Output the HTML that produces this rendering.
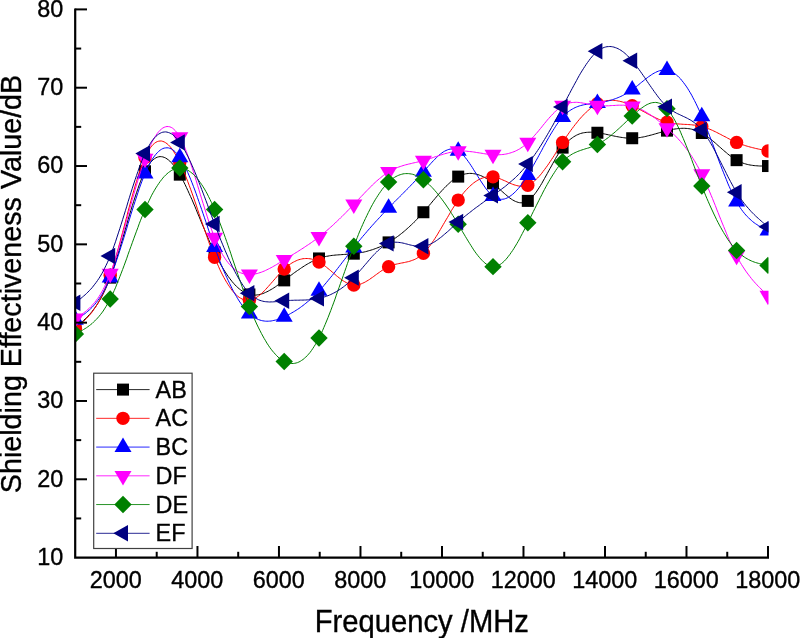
<!DOCTYPE html>
<html><head><meta charset="utf-8"><title>Shielding Effectiveness</title>
<style>
html,body{margin:0;padding:0;background:#fff;}
svg{display:block;font-family:"Liberation Sans",Arial,sans-serif;fill:#000;}
text{stroke:#000;stroke-width:0.35px;}
</style></head>
<body>
<svg width="800" height="638" viewBox="0 0 800 638">
<rect width="800" height="638" fill="#fff"/>
<defs><clipPath id="pc"><rect x="75.8" y="0" width="692.7" height="557.6"/></clipPath></defs>
<g clip-path="url(#pc)">
<g><path d="M75.4,327.4 L76.8,326.2 L78.2,325.1 L79.6,324.0 L81.0,322.8 L82.3,321.6 L83.7,320.3 L85.1,319.0 L86.5,317.7 L87.9,316.2 L89.3,314.7 L90.7,313.2 L92.1,311.5 L93.4,309.7 L94.8,307.9 L96.2,305.9 L97.6,303.8 L99.0,301.5 L100.4,299.1 L101.8,296.6 L103.2,293.9 L104.5,291.1 L105.9,288.1 L107.3,284.9 L108.7,281.5 L110.1,277.9 L111.5,274.1 L112.9,270.1 L114.3,266.0 L115.7,261.7 L117.0,257.3 L118.4,252.8 L119.8,248.2 L121.2,243.5 L122.6,238.7 L124.0,234.0 L125.4,229.2 L126.8,224.4 L128.1,219.6 L129.5,214.9 L130.9,210.3 L132.3,205.7 L133.7,201.3 L135.1,197.0 L136.5,192.8 L137.9,188.7 L139.2,184.9 L140.6,181.2 L142.0,177.8 L143.4,174.6 L144.8,171.7 L146.2,169.0 L147.6,166.6 L149.0,164.5 L150.4,162.7 L151.7,161.1 L153.1,159.8 L154.5,158.7 L155.9,157.8 L157.3,157.2 L158.7,156.8 L160.1,156.6 L161.5,156.7 L162.8,156.9 L164.2,157.4 L165.6,158.0 L167.0,158.9 L168.4,159.9 L169.8,161.1 L171.2,162.5 L172.6,164.1 L173.9,165.8 L175.3,167.6 L176.7,169.7 L178.1,171.8 L179.5,174.1 L180.9,176.6 L182.3,179.1 L183.7,181.8 L185.1,184.6 L186.4,187.4 L187.8,190.4 L189.2,193.5 L190.6,196.6 L192.0,199.7 L193.4,203.0 L194.8,206.2 L196.2,209.6 L197.5,212.9 L198.9,216.2 L200.3,219.6 L201.7,223.0 L203.1,226.3 L204.5,229.6 L205.9,232.9 L207.3,236.2 L208.6,239.4 L210.0,242.6 L211.4,245.7 L212.8,248.8 L214.2,251.7 L215.6,254.6 L217.0,257.4 L218.4,260.1 L219.7,262.7 L221.1,265.2 L222.5,267.6 L223.9,269.9 L225.3,272.1 L226.7,274.2 L228.1,276.3 L229.5,278.2 L230.9,280.0 L232.2,281.7 L233.6,283.3 L235.0,284.9 L236.4,286.3 L237.8,287.6 L239.2,288.8 L240.6,289.9 L242.0,290.9 L243.3,291.8 L244.7,292.6 L246.1,293.3 L247.5,293.9 L248.9,294.3 L250.3,294.7 L251.7,294.9 L253.1,295.1 L254.4,295.1 L255.8,295.1 L257.2,294.9 L258.6,294.7 L260.0,294.4 L261.4,294.0 L262.8,293.6 L264.2,293.0 L265.6,292.4 L266.9,291.8 L268.3,291.1 L269.7,290.3 L271.1,289.5 L272.5,288.7 L273.9,287.8 L275.3,286.9 L276.7,285.9 L278.0,284.9 L279.4,283.9 L280.8,282.9 L282.2,281.9 L283.6,280.8 L285.0,279.8 L286.4,278.7 L287.8,277.7 L289.1,276.6 L290.5,275.6 L291.9,274.6 L293.3,273.5 L294.7,272.5 L296.1,271.5 L297.5,270.5 L298.9,269.6 L300.3,268.6 L301.6,267.7 L303.0,266.8 L304.4,265.9 L305.8,265.0 L307.2,264.2 L308.6,263.4 L310.0,262.6 L311.4,261.8 L312.7,261.1 L314.1,260.5 L315.5,259.8 L316.9,259.3 L318.3,258.7 L319.7,258.2 L321.1,257.8 L322.5,257.3 L323.8,257.0 L325.2,256.6 L326.6,256.3 L328.0,256.1 L329.4,255.8 L330.8,255.6 L332.2,255.4 L333.6,255.3 L335.0,255.1 L336.3,255.0 L337.7,254.9 L339.1,254.8 L340.5,254.7 L341.9,254.6 L343.3,254.5 L344.7,254.4 L346.1,254.3 L347.4,254.2 L348.8,254.1 L350.2,254.0 L351.6,253.9 L353.0,253.8 L354.4,253.6 L355.8,253.4 L357.2,253.2 L358.5,253.0 L359.9,252.8 L361.3,252.5 L362.7,252.3 L364.1,252.0 L365.5,251.7 L366.9,251.3 L368.3,250.9 L369.7,250.5 L371.0,250.1 L372.4,249.7 L373.8,249.2 L375.2,248.7 L376.6,248.2 L378.0,247.6 L379.4,247.1 L380.8,246.4 L382.1,245.8 L383.5,245.1 L384.9,244.4 L386.3,243.7 L387.7,242.9 L389.1,242.1 L390.5,241.3 L391.9,240.4 L393.2,239.5 L394.6,238.6 L396.0,237.6 L397.4,236.6 L398.8,235.6 L400.2,234.5 L401.6,233.4 L403.0,232.3 L404.4,231.1 L405.7,230.0 L407.1,228.7 L408.5,227.5 L409.9,226.2 L411.3,224.9 L412.7,223.6 L414.1,222.2 L415.5,220.8 L416.8,219.4 L418.2,217.9 L419.6,216.4 L421.0,214.9 L422.4,213.4 L423.8,211.8 L425.2,210.2 L426.6,208.6 L427.9,207.0 L429.3,205.3 L430.7,203.7 L432.1,202.0 L433.5,200.3 L434.9,198.7 L436.3,197.0 L437.7,195.4 L439.0,193.8 L440.4,192.3 L441.8,190.7 L443.2,189.2 L444.6,187.8 L446.0,186.3 L447.4,185.0 L448.8,183.7 L450.2,182.4 L451.5,181.2 L452.9,180.1 L454.3,179.1 L455.7,178.1 L457.1,177.2 L458.5,176.5 L459.9,175.8 L461.3,175.2 L462.6,174.7 L464.0,174.2 L465.4,173.9 L466.8,173.7 L468.2,173.5 L469.6,173.4 L471.0,173.4 L472.4,173.5 L473.7,173.7 L475.1,173.9 L476.5,174.2 L477.9,174.6 L479.3,175.1 L480.7,175.6 L482.1,176.2 L483.5,176.9 L484.9,177.6 L486.2,178.4 L487.6,179.3 L489.0,180.2 L490.4,181.2 L491.8,182.3 L493.2,183.4 L494.6,184.6 L496.0,185.8 L497.3,187.0 L498.7,188.3 L500.1,189.6 L501.5,190.9 L502.9,192.2 L504.3,193.4 L505.7,194.6 L507.1,195.8 L508.4,196.9 L509.8,198.0 L511.2,199.0 L512.6,199.9 L514.0,200.7 L515.4,201.4 L516.8,201.9 L518.2,202.4 L519.6,202.7 L520.9,202.8 L522.3,202.8 L523.7,202.6 L525.1,202.2 L526.5,201.6 L527.9,200.8 L529.3,199.8 L530.7,198.6 L532.0,197.2 L533.4,195.7 L534.8,193.9 L536.2,192.1 L537.6,190.0 L539.0,187.9 L540.4,185.7 L541.8,183.4 L543.1,181.0 L544.5,178.5 L545.9,176.0 L547.3,173.5 L548.7,170.9 L550.1,168.4 L551.5,165.9 L552.9,163.3 L554.3,160.9 L555.6,158.4 L557.0,156.1 L558.4,153.8 L559.8,151.7 L561.2,149.6 L562.6,147.7 L564.0,145.9 L565.4,144.2 L566.7,142.7 L568.1,141.3 L569.5,140.0 L570.9,138.8 L572.3,137.8 L573.7,136.8 L575.1,136.0 L576.5,135.2 L577.8,134.6 L579.2,134.0 L580.6,133.5 L582.0,133.1 L583.4,132.8 L584.8,132.6 L586.2,132.4 L587.6,132.3 L589.0,132.2 L590.3,132.2 L591.7,132.2 L593.1,132.3 L594.5,132.4 L595.9,132.6 L597.3,132.7 L598.7,132.9 L600.1,133.2 L601.4,133.4 L602.8,133.7 L604.2,133.9 L605.6,134.2 L607.0,134.5 L608.4,134.8 L609.8,135.1 L611.2,135.4 L612.5,135.7 L613.9,136.0 L615.3,136.3 L616.7,136.6 L618.1,136.8 L619.5,137.1 L620.9,137.3 L622.3,137.5 L623.7,137.7 L625.0,137.9 L626.4,138.0 L627.8,138.1 L629.2,138.2 L630.6,138.2 L632.0,138.2 L633.4,138.2 L634.8,138.1 L636.1,138.0 L637.5,137.9 L638.9,137.7 L640.3,137.5 L641.7,137.2 L643.1,137.0 L644.5,136.7 L645.9,136.4 L647.2,136.0 L648.6,135.7 L650.0,135.3 L651.4,135.0 L652.8,134.6 L654.2,134.2 L655.6,133.8 L657.0,133.4 L658.3,133.0 L659.7,132.6 L661.1,132.2 L662.5,131.8 L663.9,131.4 L665.3,131.1 L666.7,130.7 L668.1,130.4 L669.5,130.1 L670.8,129.8 L672.2,129.5 L673.6,129.2 L675.0,129.0 L676.4,128.8 L677.8,128.6 L679.2,128.5 L680.6,128.4 L681.9,128.3 L683.3,128.3 L684.7,128.3 L686.1,128.4 L687.5,128.5 L688.9,128.7 L690.3,128.9 L691.7,129.2 L693.0,129.5 L694.4,129.9 L695.8,130.3 L697.2,130.8 L698.6,131.4 L700.0,132.0 L701.4,132.8 L702.8,133.5 L704.2,134.4 L705.5,135.3 L706.9,136.3 L708.3,137.3 L709.7,138.4 L711.1,139.5 L712.5,140.6 L713.9,141.8 L715.3,143.0 L716.6,144.2 L718.0,145.5 L719.4,146.7 L720.8,147.9 L722.2,149.2 L723.6,150.4 L725.0,151.6 L726.4,152.7 L727.7,153.9 L729.1,155.0 L730.5,156.1 L731.9,157.1 L733.3,158.1 L734.7,159.0 L736.1,159.9 L737.5,160.6 L738.9,161.4 L740.2,162.0 L741.6,162.6 L743.0,163.1 L744.4,163.6 L745.8,164.0 L747.2,164.4 L748.6,164.7 L750.0,165.0 L751.3,165.2 L752.7,165.4 L754.1,165.6 L755.5,165.7 L756.9,165.8 L758.3,165.9 L759.7,166.0 L761.1,166.0 L762.4,166.0 L763.8,166.0 L765.2,166.0 L766.6,166.0 L768.0,166.0" fill="none" stroke="#000000" stroke-width="1"/>
<rect x="69.40" y="321.36" width="12.00" height="12.00" fill="#000000"/>
<rect x="104.20" y="271.63" width="12.00" height="12.00" fill="#000000"/>
<rect x="139.00" y="165.28" width="12.00" height="12.00" fill="#000000"/>
<rect x="173.80" y="168.65" width="12.00" height="12.00" fill="#000000"/>
<rect x="208.60" y="246.57" width="12.00" height="12.00" fill="#000000"/>
<rect x="243.40" y="288.47" width="12.00" height="12.00" fill="#000000"/>
<rect x="278.20" y="274.38" width="12.00" height="12.00" fill="#000000"/>
<rect x="313.00" y="252.45" width="12.00" height="12.00" fill="#000000"/>
<rect x="347.80" y="247.67" width="12.00" height="12.00" fill="#000000"/>
<rect x="382.60" y="236.39" width="12.00" height="12.00" fill="#000000"/>
<rect x="417.40" y="206.24" width="12.00" height="12.00" fill="#000000"/>
<rect x="452.20" y="170.61" width="12.00" height="12.00" fill="#000000"/>
<rect x="487.00" y="177.27" width="12.00" height="12.00" fill="#000000"/>
<rect x="521.80" y="194.89" width="12.00" height="12.00" fill="#000000"/>
<rect x="556.60" y="141.63" width="12.00" height="12.00" fill="#000000"/>
<rect x="591.40" y="126.75" width="12.00" height="12.00" fill="#000000"/>
<rect x="626.20" y="132.24" width="12.00" height="12.00" fill="#000000"/>
<rect x="661.00" y="124.64" width="12.00" height="12.00" fill="#000000"/>
<rect x="695.80" y="126.99" width="12.00" height="12.00" fill="#000000"/>
<rect x="730.60" y="154.16" width="12.00" height="12.00" fill="#000000"/>
<rect x="762.00" y="160.04" width="12.00" height="12.00" fill="#000000"/>
</g>
<g><path d="M75.4,328.5 L76.8,327.4 L78.2,326.2 L79.6,325.0 L81.0,323.8 L82.3,322.6 L83.7,321.3 L85.1,319.9 L86.5,318.5 L87.9,317.0 L89.3,315.4 L90.7,313.8 L92.1,312.0 L93.4,310.1 L94.8,308.1 L96.2,306.0 L97.6,303.7 L99.0,301.3 L100.4,298.7 L101.8,296.0 L103.2,293.1 L104.5,290.0 L105.9,286.7 L107.3,283.2 L108.7,279.5 L110.1,275.6 L111.5,271.4 L112.9,267.1 L114.3,262.5 L115.7,257.8 L117.0,252.9 L118.4,247.9 L119.8,242.8 L121.2,237.6 L122.6,232.4 L124.0,227.1 L125.4,221.8 L126.8,216.5 L128.1,211.2 L129.5,206.0 L130.9,200.9 L132.3,195.8 L133.7,190.9 L135.1,186.0 L136.5,181.4 L137.9,176.9 L139.2,172.6 L140.6,168.5 L142.0,164.7 L143.4,161.1 L144.8,157.9 L146.2,154.9 L147.6,152.2 L149.0,149.9 L150.4,147.8 L151.7,146.0 L153.1,144.5 L154.5,143.3 L155.9,142.3 L157.3,141.6 L158.7,141.2 L160.1,141.0 L161.5,141.0 L162.8,141.4 L164.2,141.9 L165.6,142.7 L167.0,143.7 L168.4,144.9 L169.8,146.3 L171.2,148.0 L172.6,149.8 L173.9,151.9 L175.3,154.1 L176.7,156.5 L178.1,159.1 L179.5,161.9 L180.9,164.8 L182.3,167.9 L183.7,171.2 L185.1,174.6 L186.4,178.1 L187.8,181.7 L189.2,185.4 L190.6,189.2 L192.0,193.1 L193.4,197.0 L194.8,201.1 L196.2,205.1 L197.5,209.2 L198.9,213.3 L200.3,217.4 L201.7,221.5 L203.1,225.6 L204.5,229.6 L205.9,233.6 L207.3,237.6 L208.6,241.5 L210.0,245.3 L211.4,249.1 L212.8,252.7 L214.2,256.3 L215.6,259.7 L217.0,263.0 L218.4,266.2 L219.7,269.2 L221.1,272.1 L222.5,274.9 L223.9,277.5 L225.3,280.0 L226.7,282.4 L228.1,284.6 L229.5,286.7 L230.9,288.7 L232.2,290.5 L233.6,292.2 L235.0,293.7 L236.4,295.0 L237.8,296.3 L239.2,297.3 L240.6,298.2 L242.0,299.0 L243.3,299.6 L244.7,300.0 L246.1,300.3 L247.5,300.4 L248.9,300.4 L250.3,300.2 L251.7,299.8 L253.1,299.3 L254.4,298.6 L255.8,297.9 L257.2,296.9 L258.6,295.9 L260.0,294.8 L261.4,293.6 L262.8,292.3 L264.2,290.9 L265.6,289.5 L266.9,288.0 L268.3,286.5 L269.7,284.9 L271.1,283.3 L272.5,281.7 L273.9,280.1 L275.3,278.5 L276.7,276.9 L278.0,275.4 L279.4,273.9 L280.8,272.4 L282.2,271.0 L283.6,269.6 L285.0,268.3 L286.4,267.1 L287.8,266.0 L289.1,264.9 L290.5,263.9 L291.9,263.0 L293.3,262.2 L294.7,261.5 L296.1,260.8 L297.5,260.2 L298.9,259.7 L300.3,259.3 L301.6,259.0 L303.0,258.7 L304.4,258.6 L305.8,258.5 L307.2,258.5 L308.6,258.6 L310.0,258.8 L311.4,259.0 L312.7,259.4 L314.1,259.8 L315.5,260.3 L316.9,260.9 L318.3,261.6 L319.7,262.4 L321.1,263.2 L322.5,264.2 L323.8,265.2 L325.2,266.2 L326.6,267.3 L328.0,268.5 L329.4,269.6 L330.8,270.8 L332.2,272.0 L333.6,273.2 L335.0,274.4 L336.3,275.6 L337.7,276.7 L339.1,277.8 L340.5,278.9 L341.9,279.9 L343.3,280.9 L344.7,281.7 L346.1,282.5 L347.4,283.2 L348.8,283.9 L350.2,284.4 L351.6,284.7 L353.0,285.0 L354.4,285.1 L355.8,285.1 L357.2,284.9 L358.5,284.7 L359.9,284.3 L361.3,283.8 L362.7,283.2 L364.1,282.6 L365.5,281.8 L366.9,281.0 L368.3,280.2 L369.7,279.3 L371.0,278.3 L372.4,277.4 L373.8,276.4 L375.2,275.3 L376.6,274.3 L378.0,273.3 L379.4,272.3 L380.8,271.3 L382.1,270.4 L383.5,269.5 L384.9,268.6 L386.3,267.8 L387.7,267.1 L389.1,266.5 L390.5,265.9 L391.9,265.4 L393.2,264.9 L394.6,264.5 L396.0,264.2 L397.4,263.9 L398.8,263.6 L400.2,263.3 L401.6,263.0 L403.0,262.8 L404.4,262.5 L405.7,262.2 L407.1,261.9 L408.5,261.6 L409.9,261.2 L411.3,260.7 L412.7,260.2 L414.1,259.7 L415.5,259.0 L416.8,258.3 L418.2,257.4 L419.6,256.5 L421.0,255.5 L422.4,254.3 L423.8,253.0 L425.2,251.6 L426.6,250.0 L427.9,248.3 L429.3,246.5 L430.7,244.7 L432.1,242.7 L433.5,240.6 L434.9,238.5 L436.3,236.3 L437.7,234.1 L439.0,231.8 L440.4,229.5 L441.8,227.1 L443.2,224.7 L444.6,222.3 L446.0,219.9 L447.4,217.6 L448.8,215.2 L450.2,212.8 L451.5,210.5 L452.9,208.2 L454.3,206.0 L455.7,203.8 L457.1,201.7 L458.5,199.7 L459.9,197.8 L461.3,195.9 L462.6,194.1 L464.0,192.4 L465.4,190.8 L466.8,189.3 L468.2,187.8 L469.6,186.5 L471.0,185.2 L472.4,184.0 L473.7,182.9 L475.1,181.9 L476.5,181.0 L477.9,180.1 L479.3,179.4 L480.7,178.7 L482.1,178.2 L483.5,177.7 L484.9,177.3 L486.2,177.0 L487.6,176.8 L489.0,176.7 L490.4,176.6 L491.8,176.7 L493.2,176.9 L494.6,177.1 L496.0,177.5 L497.3,177.9 L498.7,178.3 L500.1,178.8 L501.5,179.4 L502.9,180.0 L504.3,180.6 L505.7,181.2 L507.1,181.9 L508.4,182.5 L509.8,183.1 L511.2,183.7 L512.6,184.3 L514.0,184.8 L515.4,185.2 L516.8,185.6 L518.2,185.9 L519.6,186.1 L520.9,186.3 L522.3,186.3 L523.7,186.2 L525.1,186.0 L526.5,185.7 L527.9,185.2 L529.3,184.6 L530.7,183.8 L532.0,182.9 L533.4,181.8 L534.8,180.6 L536.2,179.4 L537.6,178.0 L539.0,176.5 L540.4,174.9 L541.8,173.2 L543.1,171.4 L544.5,169.6 L545.9,167.7 L547.3,165.8 L548.7,163.8 L550.1,161.7 L551.5,159.6 L552.9,157.5 L554.3,155.4 L555.6,153.2 L557.0,151.0 L558.4,148.9 L559.8,146.7 L561.2,144.5 L562.6,142.4 L564.0,140.3 L565.4,138.2 L566.7,136.2 L568.1,134.2 L569.5,132.2 L570.9,130.3 L572.3,128.4 L573.7,126.5 L575.1,124.7 L576.5,123.0 L577.8,121.3 L579.2,119.6 L580.6,118.0 L582.0,116.5 L583.4,115.0 L584.8,113.6 L586.2,112.2 L587.6,110.9 L589.0,109.7 L590.3,108.5 L591.7,107.4 L593.1,106.4 L594.5,105.5 L595.9,104.6 L597.3,103.8 L598.7,103.1 L600.1,102.5 L601.4,102.0 L602.8,101.5 L604.2,101.2 L605.6,100.9 L607.0,100.6 L608.4,100.5 L609.8,100.3 L611.2,100.3 L612.5,100.3 L613.9,100.4 L615.3,100.5 L616.7,100.7 L618.1,101.0 L619.5,101.2 L620.9,101.6 L622.3,101.9 L623.7,102.4 L625.0,102.8 L626.4,103.3 L627.8,103.9 L629.2,104.4 L630.6,105.0 L632.0,105.6 L633.4,106.3 L634.8,107.0 L636.1,107.6 L637.5,108.4 L638.9,109.1 L640.3,109.8 L641.7,110.6 L643.1,111.3 L644.5,112.1 L645.9,112.8 L647.2,113.6 L648.6,114.3 L650.0,115.0 L651.4,115.7 L652.8,116.5 L654.2,117.1 L655.6,117.8 L657.0,118.5 L658.3,119.1 L659.7,119.7 L661.1,120.2 L662.5,120.8 L663.9,121.2 L665.3,121.7 L666.7,122.1 L668.1,122.5 L669.5,122.8 L670.8,123.0 L672.2,123.3 L673.6,123.5 L675.0,123.7 L676.4,123.8 L677.8,123.9 L679.2,124.0 L680.6,124.1 L681.9,124.2 L683.3,124.3 L684.7,124.4 L686.1,124.4 L687.5,124.5 L688.9,124.6 L690.3,124.7 L691.7,124.8 L693.0,125.0 L694.4,125.1 L695.8,125.3 L697.2,125.5 L698.6,125.8 L700.0,126.1 L701.4,126.4 L702.8,126.8 L704.2,127.2 L705.5,127.6 L706.9,128.1 L708.3,128.7 L709.7,129.2 L711.1,129.8 L712.5,130.4 L713.9,131.1 L715.3,131.7 L716.6,132.4 L718.0,133.1 L719.4,133.8 L720.8,134.5 L722.2,135.3 L723.6,136.0 L725.0,136.7 L726.4,137.4 L727.7,138.2 L729.1,138.9 L730.5,139.6 L731.9,140.2 L733.3,140.9 L734.7,141.5 L736.1,142.2 L737.5,142.7 L738.9,143.3 L740.2,143.8 L741.6,144.4 L743.0,144.8 L744.4,145.3 L745.8,145.8 L747.2,146.2 L748.6,146.6 L750.0,147.0 L751.3,147.3 L752.7,147.7 L754.1,148.0 L755.5,148.4 L756.9,148.7 L758.3,149.0 L759.7,149.3 L761.1,149.6 L762.4,149.9 L763.8,150.2 L765.2,150.4 L766.6,150.7 L768.0,151.0" fill="none" stroke="#ff0000" stroke-width="1"/>
<circle cx="75.40" cy="328.54" r="6.7" fill="#ff0000"/>
<circle cx="110.20" cy="275.29" r="6.7" fill="#ff0000"/>
<circle cx="145.00" cy="157.42" r="6.7" fill="#ff0000"/>
<circle cx="179.80" cy="162.51" r="6.7" fill="#ff0000"/>
<circle cx="214.60" cy="257.27" r="6.7" fill="#ff0000"/>
<circle cx="249.40" cy="300.35" r="6.7" fill="#ff0000"/>
<circle cx="284.20" cy="269.02" r="6.7" fill="#ff0000"/>
<circle cx="319.00" cy="261.97" r="6.7" fill="#ff0000"/>
<circle cx="353.80" cy="285.07" r="6.7" fill="#ff0000"/>
<circle cx="388.60" cy="266.67" r="6.7" fill="#ff0000"/>
<circle cx="423.40" cy="253.36" r="6.7" fill="#ff0000"/>
<circle cx="458.20" cy="200.10" r="6.7" fill="#ff0000"/>
<circle cx="493.00" cy="176.84" r="6.7" fill="#ff0000"/>
<circle cx="527.80" cy="185.22" r="6.7" fill="#ff0000"/>
<circle cx="562.60" cy="142.39" r="6.7" fill="#ff0000"/>
<circle cx="597.40" cy="103.78" r="6.7" fill="#ff0000"/>
<circle cx="632.20" cy="105.74" r="6.7" fill="#ff0000"/>
<circle cx="667.00" cy="122.18" r="6.7" fill="#ff0000"/>
<circle cx="701.80" cy="126.49" r="6.7" fill="#ff0000"/>
<circle cx="736.60" cy="142.39" r="6.7" fill="#ff0000"/>
<circle cx="768.00" cy="151.00" r="6.7" fill="#ff0000"/>
</g>
<g><path d="M75.4,319.9 L76.8,319.1 L78.2,318.2 L79.6,317.3 L81.0,316.4 L82.3,315.5 L83.7,314.5 L85.1,313.5 L86.5,312.4 L87.9,311.2 L89.3,310.0 L90.7,308.7 L92.1,307.3 L93.4,305.9 L94.8,304.3 L96.2,302.6 L97.6,300.8 L99.0,298.9 L100.4,296.8 L101.8,294.6 L103.2,292.2 L104.5,289.7 L105.9,287.0 L107.3,284.1 L108.7,281.1 L110.1,277.9 L111.5,274.5 L112.9,270.8 L114.3,267.1 L115.7,263.1 L117.0,259.1 L118.4,254.9 L119.8,250.6 L121.2,246.2 L122.6,241.8 L124.0,237.3 L125.4,232.8 L126.8,228.2 L128.1,223.6 L129.5,219.1 L130.9,214.5 L132.3,210.0 L133.7,205.6 L135.1,201.3 L136.5,197.0 L137.9,192.8 L139.2,188.8 L140.6,184.9 L142.0,181.1 L143.4,177.5 L144.8,174.1 L146.2,170.9 L147.6,167.9 L149.0,165.1 L150.4,162.5 L151.7,160.2 L153.1,158.0 L154.5,156.0 L155.9,154.3 L157.3,152.7 L158.7,151.4 L160.1,150.2 L161.5,149.3 L162.8,148.6 L164.2,148.1 L165.6,147.9 L167.0,147.8 L168.4,147.9 L169.8,148.3 L171.2,148.9 L172.6,149.7 L173.9,150.7 L175.3,151.9 L176.7,153.4 L178.1,155.1 L179.5,157.0 L180.9,159.1 L182.3,161.4 L183.7,164.0 L185.1,166.7 L186.4,169.6 L187.8,172.6 L189.2,175.8 L190.6,179.2 L192.0,182.7 L193.4,186.3 L194.8,190.0 L196.2,193.8 L197.5,197.6 L198.9,201.6 L200.3,205.6 L201.7,209.6 L203.1,213.7 L204.5,217.8 L205.9,221.9 L207.3,226.0 L208.6,230.1 L210.0,234.1 L211.4,238.1 L212.8,242.1 L214.2,246.0 L215.6,249.8 L217.0,253.5 L218.4,257.2 L219.7,260.8 L221.1,264.3 L222.5,267.7 L223.9,271.0 L225.3,274.2 L226.7,277.3 L228.1,280.3 L229.5,283.3 L230.9,286.1 L232.2,288.9 L233.6,291.5 L235.0,294.0 L236.4,296.4 L237.8,298.8 L239.2,301.0 L240.6,303.1 L242.0,305.0 L243.3,306.9 L244.7,308.7 L246.1,310.3 L247.5,311.8 L248.9,313.2 L250.3,314.5 L251.7,315.6 L253.1,316.6 L254.4,317.5 L255.8,318.3 L257.2,319.0 L258.6,319.6 L260.0,320.1 L261.4,320.5 L262.8,320.8 L264.2,321.0 L265.6,321.2 L266.9,321.2 L268.3,321.2 L269.7,321.1 L271.1,321.0 L272.5,320.7 L273.9,320.4 L275.3,320.1 L276.7,319.7 L278.0,319.3 L279.4,318.8 L280.8,318.2 L282.2,317.7 L283.6,317.1 L285.0,316.4 L286.4,315.8 L287.8,315.1 L289.1,314.4 L290.5,313.6 L291.9,312.8 L293.3,312.0 L294.7,311.2 L296.1,310.3 L297.5,309.4 L298.9,308.5 L300.3,307.5 L301.6,306.5 L303.0,305.5 L304.4,304.4 L305.8,303.3 L307.2,302.1 L308.6,301.0 L310.0,299.7 L311.4,298.5 L312.7,297.2 L314.1,295.9 L315.5,294.5 L316.9,293.1 L318.3,291.7 L319.7,290.2 L321.1,288.7 L322.5,287.2 L323.8,285.6 L325.2,284.0 L326.6,282.3 L328.0,280.6 L329.4,278.9 L330.8,277.2 L332.2,275.5 L333.6,273.7 L335.0,272.0 L336.3,270.2 L337.7,268.4 L339.1,266.6 L340.5,264.8 L341.9,262.9 L343.3,261.1 L344.7,259.3 L346.1,257.5 L347.4,255.7 L348.8,253.9 L350.2,252.1 L351.6,250.3 L353.0,248.5 L354.4,246.7 L355.8,245.0 L357.2,243.3 L358.5,241.6 L359.9,239.9 L361.3,238.2 L362.7,236.5 L364.1,234.9 L365.5,233.3 L366.9,231.6 L368.3,230.0 L369.7,228.4 L371.0,226.9 L372.4,225.3 L373.8,223.8 L375.2,222.2 L376.6,220.7 L378.0,219.2 L379.4,217.7 L380.8,216.2 L382.1,214.7 L383.5,213.2 L384.9,211.8 L386.3,210.3 L387.7,208.9 L389.1,207.4 L390.5,206.0 L391.9,204.6 L393.2,203.2 L394.6,201.8 L396.0,200.4 L397.4,199.0 L398.8,197.6 L400.2,196.2 L401.6,194.8 L403.0,193.4 L404.4,192.0 L405.7,190.6 L407.1,189.2 L408.5,187.8 L409.9,186.4 L411.3,184.9 L412.7,183.5 L414.1,182.0 L415.5,180.6 L416.8,179.1 L418.2,177.6 L419.6,176.1 L421.0,174.6 L422.4,173.0 L423.8,171.5 L425.2,169.9 L426.6,168.3 L427.9,166.7 L429.3,165.2 L430.7,163.6 L432.1,162.1 L433.5,160.6 L434.9,159.2 L436.3,157.8 L437.7,156.5 L439.0,155.2 L440.4,154.1 L441.8,153.0 L443.2,152.0 L444.6,151.2 L446.0,150.5 L447.4,149.9 L448.8,149.4 L450.2,149.1 L451.5,149.0 L452.9,149.0 L454.3,149.2 L455.7,149.6 L457.1,150.2 L458.5,150.9 L459.9,151.9 L461.3,153.1 L462.6,154.5 L464.0,156.0 L465.4,157.7 L466.8,159.5 L468.2,161.4 L469.6,163.4 L471.0,165.5 L472.4,167.6 L473.7,169.8 L475.1,172.0 L476.5,174.3 L477.9,176.5 L479.3,178.7 L480.7,180.9 L482.1,183.0 L483.5,185.1 L484.9,187.1 L486.2,189.0 L487.6,190.7 L489.0,192.4 L490.4,193.9 L491.8,195.2 L493.2,196.3 L494.6,197.3 L496.0,198.0 L497.3,198.6 L498.7,199.0 L500.1,199.3 L501.5,199.3 L502.9,199.2 L504.3,199.0 L505.7,198.5 L507.1,198.0 L508.4,197.3 L509.8,196.4 L511.2,195.4 L512.6,194.3 L514.0,193.1 L515.4,191.7 L516.8,190.2 L518.2,188.7 L519.6,187.0 L520.9,185.2 L522.3,183.3 L523.7,181.3 L525.1,179.3 L526.5,177.1 L527.9,174.9 L529.3,172.6 L530.7,170.3 L532.0,167.9 L533.4,165.4 L534.8,162.9 L536.2,160.4 L537.6,157.9 L539.0,155.3 L540.4,152.7 L541.8,150.2 L543.1,147.6 L544.5,145.1 L545.9,142.6 L547.3,140.1 L548.7,137.6 L550.1,135.2 L551.5,132.9 L552.9,130.6 L554.3,128.4 L555.6,126.3 L557.0,124.2 L558.4,122.3 L559.8,120.5 L561.2,118.7 L562.6,117.1 L564.0,115.6 L565.4,114.3 L566.7,113.0 L568.1,111.9 L569.5,110.8 L570.9,109.9 L572.3,109.1 L573.7,108.3 L575.1,107.6 L576.5,107.0 L577.8,106.5 L579.2,106.0 L580.6,105.6 L582.0,105.2 L583.4,104.9 L584.8,104.6 L586.2,104.4 L587.6,104.2 L589.0,104.0 L590.3,103.8 L591.7,103.7 L593.1,103.5 L594.5,103.3 L595.9,103.2 L597.3,103.0 L598.7,102.8 L600.1,102.6 L601.4,102.4 L602.8,102.1 L604.2,101.8 L605.6,101.5 L607.0,101.2 L608.4,100.9 L609.8,100.5 L611.2,100.1 L612.5,99.7 L613.9,99.2 L615.3,98.7 L616.7,98.2 L618.1,97.6 L619.5,97.0 L620.9,96.4 L622.3,95.7 L623.7,95.0 L625.0,94.2 L626.4,93.4 L627.8,92.6 L629.2,91.7 L630.6,90.8 L632.0,89.8 L633.4,88.8 L634.8,87.8 L636.1,86.7 L637.5,85.6 L638.9,84.5 L640.3,83.3 L641.7,82.2 L643.1,81.1 L644.5,79.9 L645.9,78.8 L647.2,77.8 L648.6,76.7 L650.0,75.8 L651.4,74.8 L652.8,73.9 L654.2,73.1 L655.6,72.4 L657.0,71.7 L658.3,71.2 L659.7,70.7 L661.1,70.3 L662.5,70.1 L663.9,69.9 L665.3,69.9 L666.7,70.1 L668.1,70.3 L669.5,70.7 L670.8,71.3 L672.2,72.0 L673.6,72.8 L675.0,73.8 L676.4,74.9 L677.8,76.1 L679.2,77.5 L680.6,78.9 L681.9,80.6 L683.3,82.3 L684.7,84.2 L686.1,86.1 L687.5,88.2 L688.9,90.5 L690.3,92.8 L691.7,95.2 L693.0,97.8 L694.4,100.4 L695.8,103.2 L697.2,106.1 L698.6,109.1 L700.0,112.1 L701.4,115.3 L702.8,118.6 L704.2,122.0 L705.5,125.4 L706.9,128.9 L708.3,132.5 L709.7,136.1 L711.1,139.8 L712.5,143.5 L713.9,147.2 L715.3,150.9 L716.6,154.6 L718.0,158.3 L719.4,162.0 L720.8,165.7 L722.2,169.3 L723.6,172.8 L725.0,176.3 L726.4,179.7 L727.7,183.1 L729.1,186.3 L730.5,189.4 L731.9,192.5 L733.3,195.3 L734.7,198.1 L736.1,200.7 L737.5,203.2 L738.9,205.5 L740.2,207.7 L741.6,209.7 L743.0,211.6 L744.4,213.3 L745.8,215.0 L747.2,216.5 L748.6,217.9 L750.0,219.2 L751.3,220.4 L752.7,221.6 L754.1,222.7 L755.5,223.7 L756.9,224.6 L758.3,225.5 L759.7,226.3 L761.1,227.1 L762.4,227.8 L763.8,228.6 L765.2,229.3 L766.6,230.0 L768.0,230.6" fill="none" stroke="#0000ff" stroke-width="1"/>
<polygon points="75.40,310.32 83.90,324.82 66.90,324.82" fill="#0000ff"/>
<polygon points="110.20,268.03 118.70,282.53 101.70,282.53" fill="#0000ff"/>
<polygon points="145.00,164.03 153.50,178.53 136.50,178.53" fill="#0000ff"/>
<polygon points="179.80,147.82 188.30,162.32 171.30,162.32" fill="#0000ff"/>
<polygon points="214.60,237.49 223.10,251.99 206.10,251.99" fill="#0000ff"/>
<polygon points="249.40,304.06 257.90,318.56 240.90,318.56" fill="#0000ff"/>
<polygon points="284.20,307.19 292.70,321.69 275.70,321.69" fill="#0000ff"/>
<polygon points="319.00,281.35 327.50,295.85 310.50,295.85" fill="#0000ff"/>
<polygon points="353.80,237.88 362.30,252.38 345.30,252.38" fill="#0000ff"/>
<polygon points="388.60,198.34 397.10,212.84 380.10,212.84" fill="#0000ff"/>
<polygon points="423.40,162.31 431.90,176.81 414.90,176.81" fill="#0000ff"/>
<polygon points="458.20,141.17 466.70,155.67 449.70,155.67" fill="#0000ff"/>
<polygon points="493.00,186.59 501.50,201.09 484.50,201.09" fill="#0000ff"/>
<polygon points="527.80,165.44 536.30,179.94 519.30,179.94" fill="#0000ff"/>
<polygon points="562.60,107.49 571.10,121.99 554.10,121.99" fill="#0000ff"/>
<polygon points="597.40,93.39 605.90,107.89 588.90,107.89" fill="#0000ff"/>
<polygon points="632.20,80.08 640.70,94.58 623.70,94.58" fill="#0000ff"/>
<polygon points="667.00,60.50 675.50,75.00 658.50,75.00" fill="#0000ff"/>
<polygon points="701.80,106.71 710.30,121.21 693.30,121.21" fill="#0000ff"/>
<polygon points="736.60,192.07 745.10,206.57 728.10,206.57" fill="#0000ff"/>
<polygon points="768.00,221.05 776.50,235.55 759.50,235.55" fill="#0000ff"/>
</g>
<g><path d="M75.4,318.4 L76.8,317.5 L78.2,316.6 L79.6,315.7 L81.0,314.8 L82.3,313.9 L83.7,312.9 L85.1,311.8 L86.5,310.7 L87.9,309.5 L89.3,308.3 L90.7,306.9 L92.1,305.5 L93.4,303.9 L94.8,302.3 L96.2,300.5 L97.6,298.6 L99.0,296.5 L100.4,294.3 L101.8,291.9 L103.2,289.4 L104.5,286.7 L105.9,283.8 L107.3,280.8 L108.7,277.5 L110.1,274.0 L111.5,270.3 L112.9,266.4 L114.3,262.3 L115.7,258.0 L117.0,253.6 L118.4,249.0 L119.8,244.4 L121.2,239.6 L122.6,234.7 L124.0,229.8 L125.4,224.8 L126.8,219.8 L128.1,214.7 L129.5,209.7 L130.9,204.7 L132.3,199.7 L133.7,194.8 L135.1,189.9 L136.5,185.1 L137.9,180.4 L139.2,175.9 L140.6,171.5 L142.0,167.2 L143.4,163.1 L144.8,159.1 L146.2,155.4 L147.6,151.9 L149.0,148.6 L150.4,145.5 L151.7,142.7 L153.1,140.0 L154.5,137.6 L155.9,135.4 L157.3,133.4 L158.7,131.7 L160.1,130.2 L161.5,129.0 L162.8,128.0 L164.2,127.3 L165.6,126.8 L167.0,126.5 L168.4,126.6 L169.8,126.8 L171.2,127.4 L172.6,128.2 L173.9,129.3 L175.3,130.7 L176.7,132.4 L178.1,134.3 L179.5,136.5 L180.9,139.1 L182.3,141.9 L183.7,144.9 L185.1,148.2 L186.4,151.7 L187.8,155.4 L189.2,159.3 L190.6,163.3 L192.0,167.5 L193.4,171.8 L194.8,176.2 L196.2,180.6 L197.5,185.2 L198.9,189.7 L200.3,194.3 L201.7,198.9 L203.1,203.4 L204.5,207.9 L205.9,212.4 L207.3,216.8 L208.6,221.0 L210.0,225.2 L211.4,229.2 L212.8,233.0 L214.2,236.7 L215.6,240.1 L217.0,243.4 L218.4,246.4 L219.7,249.3 L221.1,252.0 L222.5,254.5 L223.9,256.8 L225.3,258.9 L226.7,260.9 L228.1,262.7 L229.5,264.4 L230.9,265.9 L232.2,267.3 L233.6,268.5 L235.0,269.6 L236.4,270.6 L237.8,271.5 L239.2,272.2 L240.6,272.8 L242.0,273.3 L243.3,273.7 L244.7,274.1 L246.1,274.3 L247.5,274.4 L248.9,274.5 L250.3,274.5 L251.7,274.4 L253.1,274.3 L254.4,274.1 L255.8,273.8 L257.2,273.5 L258.6,273.1 L260.0,272.6 L261.4,272.2 L262.8,271.6 L264.2,271.1 L265.6,270.4 L266.9,269.8 L268.3,269.1 L269.7,268.4 L271.1,267.7 L272.5,266.9 L273.9,266.1 L275.3,265.3 L276.7,264.5 L278.0,263.6 L279.4,262.8 L280.8,261.9 L282.2,261.1 L283.6,260.2 L285.0,259.4 L286.4,258.5 L287.8,257.7 L289.1,256.8 L290.5,256.0 L291.9,255.1 L293.3,254.3 L294.7,253.4 L296.1,252.6 L297.5,251.7 L298.9,250.8 L300.3,249.9 L301.6,249.1 L303.0,248.2 L304.4,247.3 L305.8,246.3 L307.2,245.4 L308.6,244.5 L310.0,243.5 L311.4,242.6 L312.7,241.6 L314.1,240.6 L315.5,239.6 L316.9,238.5 L318.3,237.5 L319.7,236.4 L321.1,235.3 L322.5,234.2 L323.8,233.0 L325.2,231.9 L326.6,230.7 L328.0,229.5 L329.4,228.3 L330.8,227.0 L332.2,225.8 L333.6,224.5 L335.0,223.2 L336.3,221.9 L337.7,220.6 L339.1,219.3 L340.5,217.9 L341.9,216.6 L343.3,215.2 L344.7,213.8 L346.1,212.4 L347.4,211.0 L348.8,209.6 L350.2,208.2 L351.6,206.7 L353.0,205.3 L354.4,203.8 L355.8,202.3 L357.2,200.9 L358.5,199.4 L359.9,197.9 L361.3,196.4 L362.7,195.0 L364.1,193.5 L365.5,192.0 L366.9,190.6 L368.3,189.2 L369.7,187.8 L371.0,186.4 L372.4,185.0 L373.8,183.7 L375.2,182.4 L376.6,181.1 L378.0,179.9 L379.4,178.7 L380.8,177.6 L382.1,176.5 L383.5,175.4 L384.9,174.4 L386.3,173.4 L387.7,172.5 L389.1,171.6 L390.5,170.8 L391.9,170.1 L393.2,169.4 L394.6,168.7 L396.0,168.1 L397.4,167.5 L398.8,167.0 L400.2,166.5 L401.6,166.1 L403.0,165.6 L404.4,165.2 L405.7,164.8 L407.1,164.5 L408.5,164.1 L409.9,163.8 L411.3,163.5 L412.7,163.1 L414.1,162.8 L415.5,162.5 L416.8,162.2 L418.2,161.9 L419.6,161.5 L421.0,161.2 L422.4,160.8 L423.8,160.4 L425.2,160.1 L426.6,159.6 L427.9,159.2 L429.3,158.8 L430.7,158.3 L432.1,157.9 L433.5,157.4 L434.9,156.9 L436.3,156.5 L437.7,156.0 L439.0,155.5 L440.4,155.1 L441.8,154.7 L443.2,154.2 L444.6,153.8 L446.0,153.4 L447.4,153.1 L448.8,152.7 L450.2,152.4 L451.5,152.1 L452.9,151.8 L454.3,151.6 L455.7,151.4 L457.1,151.3 L458.5,151.1 L459.9,151.1 L461.3,151.0 L462.6,151.0 L464.0,151.1 L465.4,151.1 L466.8,151.2 L468.2,151.4 L469.6,151.5 L471.0,151.7 L472.4,151.8 L473.7,152.0 L475.1,152.2 L476.5,152.5 L477.9,152.7 L479.3,152.9 L480.7,153.1 L482.1,153.3 L483.5,153.6 L484.9,153.8 L486.2,154.0 L487.6,154.2 L489.0,154.3 L490.4,154.5 L491.8,154.6 L493.2,154.7 L494.6,154.8 L496.0,154.8 L497.3,154.8 L498.7,154.8 L500.1,154.7 L501.5,154.6 L502.9,154.5 L504.3,154.3 L505.7,154.1 L507.1,153.8 L508.4,153.5 L509.8,153.1 L511.2,152.7 L512.6,152.2 L514.0,151.7 L515.4,151.1 L516.8,150.4 L518.2,149.7 L519.6,148.9 L520.9,148.0 L522.3,147.1 L523.7,146.1 L525.1,145.0 L526.5,143.8 L527.9,142.5 L529.3,141.2 L530.7,139.8 L532.0,138.3 L533.4,136.8 L534.8,135.2 L536.2,133.6 L537.6,132.0 L539.0,130.3 L540.4,128.6 L541.8,126.9 L543.1,125.2 L544.5,123.5 L545.9,121.8 L547.3,120.1 L548.7,118.5 L550.1,116.9 L551.5,115.4 L552.9,113.9 L554.3,112.5 L555.6,111.1 L557.0,109.8 L558.4,108.6 L559.8,107.5 L561.2,106.5 L562.6,105.7 L564.0,104.9 L565.4,104.3 L566.7,103.7 L568.1,103.3 L569.5,102.9 L570.9,102.7 L572.3,102.5 L573.7,102.4 L575.1,102.3 L576.5,102.3 L577.8,102.4 L579.2,102.5 L580.6,102.7 L582.0,102.9 L583.4,103.2 L584.8,103.4 L586.2,103.7 L587.6,104.0 L589.0,104.2 L590.3,104.5 L591.7,104.8 L593.1,105.0 L594.5,105.3 L595.9,105.5 L597.3,105.6 L598.7,105.8 L600.1,105.9 L601.4,105.9 L602.8,105.9 L604.2,105.9 L605.6,105.9 L607.0,105.8 L608.4,105.8 L609.8,105.7 L611.2,105.6 L612.5,105.5 L613.9,105.5 L615.3,105.4 L616.7,105.3 L618.1,105.2 L619.5,105.2 L620.9,105.2 L622.3,105.2 L623.7,105.2 L625.0,105.3 L626.4,105.4 L627.8,105.5 L629.2,105.7 L630.6,105.9 L632.0,106.2 L633.4,106.6 L634.8,107.0 L636.1,107.4 L637.5,107.9 L638.9,108.5 L640.3,109.1 L641.7,109.7 L643.1,110.4 L644.5,111.2 L645.9,112.0 L647.2,112.8 L648.6,113.7 L650.0,114.6 L651.4,115.5 L652.8,116.5 L654.2,117.5 L655.6,118.5 L657.0,119.6 L658.3,120.7 L659.7,121.8 L661.1,123.0 L662.5,124.1 L663.9,125.3 L665.3,126.5 L666.7,127.8 L668.1,129.0 L669.5,130.3 L670.8,131.6 L672.2,132.9 L673.6,134.2 L675.0,135.6 L676.4,137.0 L677.8,138.5 L679.2,140.0 L680.6,141.6 L681.9,143.2 L683.3,144.8 L684.7,146.6 L686.1,148.4 L687.5,150.2 L688.9,152.2 L690.3,154.2 L691.7,156.3 L693.0,158.4 L694.4,160.7 L695.8,163.0 L697.2,165.5 L698.6,168.0 L700.0,170.7 L701.4,173.4 L702.8,176.3 L704.2,179.2 L705.5,182.3 L706.9,185.4 L708.3,188.6 L709.7,191.9 L711.1,195.3 L712.5,198.6 L713.9,202.1 L715.3,205.5 L716.6,209.0 L718.0,212.5 L719.4,216.0 L720.8,219.5 L722.2,223.0 L723.6,226.4 L725.0,229.8 L726.4,233.2 L727.7,236.5 L729.1,239.7 L730.5,242.9 L731.9,246.0 L733.3,249.0 L734.7,251.9 L736.1,254.7 L737.5,257.4 L738.9,259.9 L740.2,262.4 L741.6,264.7 L743.0,266.9 L744.4,269.0 L745.8,271.1 L747.2,273.0 L748.6,274.9 L750.0,276.7 L751.3,278.4 L752.7,280.1 L754.1,281.7 L755.5,283.3 L756.9,284.8 L758.3,286.2 L759.7,287.6 L761.1,289.0 L762.4,290.4 L763.8,291.7 L765.2,293.0 L766.6,294.3 L768.0,295.6" fill="none" stroke="#ff00ff" stroke-width="1"/>
<polygon points="66.90,313.46 83.90,313.46 75.40,327.96" fill="#ff00ff"/>
<polygon points="101.70,268.82 118.70,268.82 110.20,283.32" fill="#ff00ff"/>
<polygon points="136.50,153.70 153.50,153.70 145.00,168.20" fill="#ff00ff"/>
<polygon points="171.30,132.16 188.30,132.16 179.80,146.66" fill="#ff00ff"/>
<polygon points="206.10,232.79 223.10,232.79 214.60,247.29" fill="#ff00ff"/>
<polygon points="240.90,269.60 257.90,269.60 249.40,284.10" fill="#ff00ff"/>
<polygon points="275.70,254.96 292.70,254.96 284.20,269.46" fill="#ff00ff"/>
<polygon points="310.50,232.01 327.50,232.01 319.00,246.51" fill="#ff00ff"/>
<polygon points="345.30,199.51 362.30,199.51 353.80,214.01" fill="#ff00ff"/>
<polygon points="380.10,167.01 397.10,167.01 388.60,181.51" fill="#ff00ff"/>
<polygon points="414.90,155.66 431.90,155.66 423.40,170.16" fill="#ff00ff"/>
<polygon points="449.70,146.26 466.70,146.26 458.20,160.76" fill="#ff00ff"/>
<polygon points="484.50,149.78 501.50,149.78 493.00,164.28" fill="#ff00ff"/>
<polygon points="519.30,137.72 536.30,137.72 527.80,152.22" fill="#ff00ff"/>
<polygon points="554.10,100.76 571.10,100.76 562.60,115.26" fill="#ff00ff"/>
<polygon points="588.90,100.76 605.90,100.76 597.40,115.26" fill="#ff00ff"/>
<polygon points="623.70,101.38 640.70,101.38 632.20,115.88" fill="#ff00ff"/>
<polygon points="658.50,123.15 675.50,123.15 667.00,137.65" fill="#ff00ff"/>
<polygon points="693.30,169.36 710.30,169.36 701.80,183.86" fill="#ff00ff"/>
<polygon points="728.10,250.81 745.10,250.81 736.60,265.31" fill="#ff00ff"/>
<polygon points="759.50,290.75 776.50,290.75 768.00,305.25" fill="#ff00ff"/>
</g>
<g><path d="M75.4,334.0 L76.8,333.3 L78.2,332.6 L79.6,331.8 L81.0,331.0 L82.3,330.3 L83.7,329.4 L85.1,328.6 L86.5,327.7 L87.9,326.7 L89.3,325.7 L90.7,324.6 L92.1,323.5 L93.4,322.2 L94.8,320.9 L96.2,319.5 L97.6,318.0 L99.0,316.4 L100.4,314.7 L101.8,312.9 L103.2,311.0 L104.5,308.9 L105.9,306.7 L107.3,304.3 L108.7,301.9 L110.1,299.2 L111.5,296.4 L112.9,293.5 L114.3,290.4 L115.7,287.2 L117.0,283.8 L118.4,280.4 L119.8,276.8 L121.2,273.2 L122.6,269.5 L124.0,265.8 L125.4,262.0 L126.8,258.2 L128.1,254.3 L129.5,250.4 L130.9,246.6 L132.3,242.7 L133.7,238.8 L135.1,235.0 L136.5,231.2 L137.9,227.5 L139.2,223.8 L140.6,220.2 L142.0,216.7 L143.4,213.3 L144.8,210.0 L146.2,206.8 L147.6,203.7 L149.0,200.8 L150.4,197.9 L151.7,195.2 L153.1,192.7 L154.5,190.2 L155.9,187.9 L157.3,185.7 L158.7,183.6 L160.1,181.6 L161.5,179.8 L162.8,178.1 L164.2,176.5 L165.6,175.1 L167.0,173.8 L168.4,172.6 L169.8,171.6 L171.2,170.7 L172.6,169.9 L173.9,169.2 L175.3,168.7 L176.7,168.3 L178.1,168.1 L179.5,168.0 L180.9,168.0 L182.3,168.2 L183.7,168.5 L185.1,168.9 L186.4,169.5 L187.8,170.2 L189.2,171.1 L190.6,172.1 L192.0,173.2 L193.4,174.4 L194.8,175.8 L196.2,177.3 L197.5,178.9 L198.9,180.7 L200.3,182.6 L201.7,184.6 L203.1,186.8 L204.5,189.0 L205.9,191.5 L207.3,194.0 L208.6,196.7 L210.0,199.4 L211.4,202.4 L212.8,205.4 L214.2,208.6 L215.6,211.8 L217.0,215.3 L218.4,218.8 L219.7,222.4 L221.1,226.1 L222.5,229.9 L223.9,233.7 L225.3,237.6 L226.7,241.6 L228.1,245.6 L229.5,249.7 L230.9,253.8 L232.2,257.9 L233.6,262.0 L235.0,266.1 L236.4,270.2 L237.8,274.3 L239.2,278.4 L240.6,282.4 L242.0,286.4 L243.3,290.3 L244.7,294.2 L246.1,298.0 L247.5,301.7 L248.9,305.3 L250.3,308.9 L251.7,312.3 L253.1,315.6 L254.4,318.8 L255.8,322.0 L257.2,325.0 L258.6,327.9 L260.0,330.7 L261.4,333.4 L262.8,336.0 L264.2,338.5 L265.6,340.8 L266.9,343.1 L268.3,345.2 L269.7,347.3 L271.1,349.2 L272.5,351.0 L273.9,352.6 L275.3,354.2 L276.7,355.7 L278.0,357.0 L279.4,358.2 L280.8,359.3 L282.2,360.3 L283.6,361.1 L285.0,361.8 L286.4,362.4 L287.8,362.9 L289.1,363.2 L290.5,363.4 L291.9,363.5 L293.3,363.5 L294.7,363.3 L296.1,363.0 L297.5,362.6 L298.9,362.0 L300.3,361.3 L301.6,360.4 L303.0,359.5 L304.4,358.3 L305.8,357.1 L307.2,355.7 L308.6,354.1 L310.0,352.5 L311.4,350.6 L312.7,348.7 L314.1,346.5 L315.5,344.3 L316.9,341.9 L318.3,339.3 L319.7,336.6 L321.1,333.7 L322.5,330.7 L323.8,327.6 L325.2,324.4 L326.6,321.0 L328.0,317.6 L329.4,314.0 L330.8,310.4 L332.2,306.7 L333.6,302.9 L335.0,299.1 L336.3,295.2 L337.7,291.3 L339.1,287.4 L340.5,283.4 L341.9,279.5 L343.3,275.5 L344.7,271.5 L346.1,267.6 L347.4,263.7 L348.8,259.8 L350.2,256.0 L351.6,252.2 L353.0,248.4 L354.4,244.8 L355.8,241.2 L357.2,237.7 L358.5,234.3 L359.9,230.9 L361.3,227.7 L362.7,224.5 L364.1,221.4 L365.5,218.4 L366.9,215.5 L368.3,212.6 L369.7,209.9 L371.0,207.2 L372.4,204.7 L373.8,202.2 L375.2,199.8 L376.6,197.6 L378.0,195.4 L379.4,193.3 L380.8,191.3 L382.1,189.4 L383.5,187.7 L384.9,186.0 L386.3,184.4 L387.7,183.0 L389.1,181.6 L390.5,180.4 L391.9,179.3 L393.2,178.2 L394.6,177.3 L396.0,176.5 L397.4,175.8 L398.8,175.2 L400.2,174.7 L401.6,174.3 L403.0,173.9 L404.4,173.7 L405.7,173.6 L407.1,173.6 L408.5,173.6 L409.9,173.8 L411.3,174.0 L412.7,174.3 L414.1,174.8 L415.5,175.3 L416.8,175.9 L418.2,176.5 L419.6,177.3 L421.0,178.1 L422.4,179.0 L423.8,180.0 L425.2,181.1 L426.6,182.2 L427.9,183.5 L429.3,184.7 L430.7,186.1 L432.1,187.5 L433.5,189.0 L434.9,190.6 L436.3,192.2 L437.7,193.9 L439.0,195.6 L440.4,197.4 L441.8,199.2 L443.2,201.1 L444.6,203.0 L446.0,205.0 L447.4,207.1 L448.8,209.1 L450.2,211.2 L451.5,213.4 L452.9,215.6 L454.3,217.8 L455.7,220.1 L457.1,222.4 L458.5,224.7 L459.9,227.0 L461.3,229.4 L462.6,231.8 L464.0,234.1 L465.4,236.5 L466.8,238.8 L468.2,241.1 L469.6,243.4 L471.0,245.6 L472.4,247.8 L473.7,249.9 L475.1,251.9 L476.5,253.8 L477.9,255.6 L479.3,257.3 L480.7,258.9 L482.1,260.4 L483.5,261.8 L484.9,263.0 L486.2,264.0 L487.6,264.9 L489.0,265.6 L490.4,266.2 L491.8,266.5 L493.2,266.7 L494.6,266.6 L496.0,266.4 L497.3,265.9 L498.7,265.3 L500.1,264.5 L501.5,263.5 L502.9,262.4 L504.3,261.1 L505.7,259.6 L507.1,258.0 L508.4,256.3 L509.8,254.5 L511.2,252.5 L512.6,250.5 L514.0,248.3 L515.4,246.0 L516.8,243.7 L518.2,241.3 L519.6,238.8 L520.9,236.2 L522.3,233.6 L523.7,230.9 L525.1,228.2 L526.5,225.4 L527.9,222.7 L529.3,219.9 L530.7,217.0 L532.0,214.2 L533.4,211.4 L534.8,208.6 L536.2,205.8 L537.6,203.0 L539.0,200.2 L540.4,197.4 L541.8,194.7 L543.1,192.0 L544.5,189.4 L545.9,186.8 L547.3,184.3 L548.7,181.8 L550.1,179.4 L551.5,177.1 L552.9,174.8 L554.3,172.7 L555.6,170.6 L557.0,168.6 L558.4,166.7 L559.8,165.0 L561.2,163.3 L562.6,161.8 L564.0,160.3 L565.4,159.0 L566.7,157.8 L568.1,156.8 L569.5,155.8 L570.9,154.9 L572.3,154.0 L573.7,153.3 L575.1,152.6 L576.5,152.0 L577.8,151.4 L579.2,150.9 L580.6,150.4 L582.0,149.9 L583.4,149.5 L584.8,149.0 L586.2,148.6 L587.6,148.2 L589.0,147.8 L590.3,147.3 L591.7,146.8 L593.1,146.3 L594.5,145.8 L595.9,145.2 L597.3,144.6 L598.7,143.9 L600.1,143.1 L601.4,142.3 L602.8,141.4 L604.2,140.5 L605.6,139.5 L607.0,138.5 L608.4,137.5 L609.8,136.4 L611.2,135.3 L612.5,134.1 L613.9,133.0 L615.3,131.8 L616.7,130.5 L618.1,129.3 L619.5,128.0 L620.9,126.7 L622.3,125.4 L623.7,124.1 L625.0,122.8 L626.4,121.5 L627.8,120.2 L629.2,118.9 L630.6,117.6 L632.0,116.3 L633.4,115.0 L634.8,113.7 L636.1,112.5 L637.5,111.3 L638.9,110.1 L640.3,109.0 L641.7,108.0 L643.1,107.0 L644.5,106.1 L645.9,105.2 L647.2,104.5 L648.6,103.9 L650.0,103.3 L651.4,102.9 L652.8,102.6 L654.2,102.5 L655.6,102.4 L657.0,102.6 L658.3,102.9 L659.7,103.3 L661.1,103.9 L662.5,104.7 L663.9,105.7 L665.3,106.9 L666.7,108.3 L668.1,109.9 L669.5,111.7 L670.8,113.7 L672.2,115.9 L673.6,118.2 L675.0,120.7 L676.4,123.4 L677.8,126.2 L679.2,129.1 L680.6,132.2 L681.9,135.4 L683.3,138.6 L684.7,142.0 L686.1,145.4 L687.5,148.9 L688.9,152.4 L690.3,156.0 L691.7,159.6 L693.0,163.3 L694.4,166.9 L695.8,170.6 L697.2,174.2 L698.6,177.8 L700.0,181.4 L701.4,184.9 L702.8,188.4 L704.2,191.8 L705.5,195.2 L706.9,198.5 L708.3,201.7 L709.7,204.9 L711.1,208.0 L712.5,211.0 L713.9,214.0 L715.3,216.9 L716.6,219.7 L718.0,222.4 L719.4,225.1 L720.8,227.6 L722.2,230.1 L723.6,232.5 L725.0,234.8 L726.4,237.0 L727.7,239.2 L729.1,241.2 L730.5,243.1 L731.9,245.0 L733.3,246.7 L734.7,248.4 L736.1,249.9 L737.5,251.3 L738.9,252.7 L740.2,253.9 L741.6,255.1 L743.0,256.1 L744.4,257.1 L745.8,258.0 L747.2,258.8 L748.6,259.6 L750.0,260.3 L751.3,260.9 L752.7,261.5 L754.1,262.0 L755.5,262.5 L756.9,262.9 L758.3,263.3 L759.7,263.7 L761.1,264.0 L762.4,264.3 L763.8,264.6 L765.2,264.9 L766.6,265.2 L768.0,265.4" fill="none" stroke="#008000" stroke-width="1"/>
<polygon points="75.40,325.32 84.10,334.02 75.40,342.72 66.70,334.02" fill="#008000"/>
<polygon points="110.20,290.31 118.90,299.01 110.20,307.71 101.50,299.01" fill="#008000"/>
<polygon points="145.00,200.80 153.70,209.50 145.00,218.20 136.30,209.50" fill="#008000"/>
<polygon points="179.80,159.29 188.50,167.99 179.80,176.69 171.10,167.99" fill="#008000"/>
<polygon points="214.60,200.80 223.30,209.50 214.60,218.20 205.90,209.50" fill="#008000"/>
<polygon points="249.40,297.91 258.10,306.61 249.40,315.31 240.70,306.61" fill="#008000"/>
<polygon points="284.20,352.73 292.90,361.43 284.20,370.13 275.50,361.43" fill="#008000"/>
<polygon points="319.00,329.24 327.70,337.94 319.00,346.64 310.30,337.94" fill="#008000"/>
<polygon points="353.80,237.61 362.50,246.31 353.80,255.01 345.10,246.31" fill="#008000"/>
<polygon points="388.60,173.39 397.30,182.09 388.60,190.79 379.90,182.09" fill="#008000"/>
<polygon points="423.40,171.04 432.10,179.74 423.40,188.44 414.70,179.74" fill="#008000"/>
<polygon points="458.20,215.52 466.90,224.22 458.20,232.92 449.50,224.22" fill="#008000"/>
<polygon points="493.00,257.97 501.70,266.67 493.00,275.37 484.30,266.67" fill="#008000"/>
<polygon points="527.80,214.11 536.50,222.81 527.80,231.51 519.10,222.81" fill="#008000"/>
<polygon points="562.60,153.03 571.30,161.73 562.60,170.43 553.90,161.73" fill="#008000"/>
<polygon points="597.40,135.80 606.10,144.50 597.40,153.20 588.70,144.50" fill="#008000"/>
<polygon points="632.20,107.37 640.90,116.07 632.20,124.77 623.50,116.07" fill="#008000"/>
<polygon points="667.00,99.93 675.70,108.63 667.00,117.33 658.30,108.63" fill="#008000"/>
<polygon points="701.80,177.31 710.50,186.01 701.80,194.71 693.10,186.01" fill="#008000"/>
<polygon points="736.60,241.76 745.30,250.46 736.60,259.16 727.90,250.46" fill="#008000"/>
<polygon points="768.00,256.72 776.70,265.42 768.00,274.12 759.30,265.42" fill="#008000"/>
</g>
<g><path d="M75.4,302.7 L76.8,301.6 L78.2,300.5 L79.6,299.4 L81.0,298.3 L82.3,297.2 L83.7,296.0 L85.1,294.8 L86.5,293.5 L87.9,292.1 L89.3,290.7 L90.7,289.2 L92.1,287.7 L93.4,286.0 L94.8,284.2 L96.2,282.4 L97.6,280.4 L99.0,278.3 L100.4,276.1 L101.8,273.7 L103.2,271.2 L104.5,268.5 L105.9,265.7 L107.3,262.8 L108.7,259.6 L110.1,256.3 L111.5,252.7 L112.9,249.1 L114.3,245.2 L115.7,241.2 L117.0,237.1 L118.4,232.9 L119.8,228.6 L121.2,224.2 L122.6,219.7 L124.0,215.2 L125.4,210.7 L126.8,206.2 L128.1,201.7 L129.5,197.2 L130.9,192.7 L132.3,188.3 L133.7,184.0 L135.1,179.7 L136.5,175.6 L137.9,171.6 L139.2,167.7 L140.6,164.0 L142.0,160.4 L143.4,157.0 L144.8,153.9 L146.2,150.9 L147.6,148.2 L149.0,145.7 L150.4,143.4 L151.7,141.3 L153.1,139.5 L154.5,137.8 L155.9,136.4 L157.3,135.1 L158.7,134.1 L160.1,133.3 L161.5,132.6 L162.8,132.2 L164.2,132.0 L165.6,131.9 L167.0,132.1 L168.4,132.5 L169.8,133.0 L171.2,133.7 L172.6,134.6 L173.9,135.7 L175.3,137.0 L176.7,138.5 L178.1,140.1 L179.5,142.0 L180.9,144.0 L182.3,146.1 L183.7,148.5 L185.1,150.9 L186.4,153.6 L187.8,156.3 L189.2,159.2 L190.6,162.2 L192.0,165.3 L193.4,168.5 L194.8,171.8 L196.2,175.2 L197.5,178.6 L198.9,182.2 L200.3,185.7 L201.7,189.4 L203.1,193.1 L204.5,196.8 L205.9,200.5 L207.3,204.2 L208.6,208.0 L210.0,211.7 L211.4,215.5 L212.8,219.2 L214.2,222.9 L215.6,226.6 L217.0,230.2 L218.4,233.8 L219.7,237.3 L221.1,240.8 L222.5,244.2 L223.9,247.6 L225.3,250.9 L226.7,254.1 L228.1,257.3 L229.5,260.4 L230.9,263.3 L232.2,266.2 L233.6,269.1 L235.0,271.8 L236.4,274.4 L237.8,276.9 L239.2,279.3 L240.6,281.6 L242.0,283.8 L243.3,285.8 L244.7,287.8 L246.1,289.6 L247.5,291.2 L248.9,292.8 L250.3,294.2 L251.7,295.4 L253.1,296.5 L254.4,297.5 L255.8,298.4 L257.2,299.1 L258.6,299.8 L260.0,300.4 L261.4,300.8 L262.8,301.2 L264.2,301.5 L265.6,301.7 L266.9,301.8 L268.3,301.9 L269.7,302.0 L271.1,301.9 L272.5,301.9 L273.9,301.8 L275.3,301.7 L276.7,301.6 L278.0,301.4 L279.4,301.2 L280.8,301.1 L282.2,300.9 L283.6,300.8 L285.0,300.7 L286.4,300.6 L287.8,300.5 L289.1,300.4 L290.5,300.4 L291.9,300.3 L293.3,300.3 L294.7,300.2 L296.1,300.2 L297.5,300.2 L298.9,300.2 L300.3,300.1 L301.6,300.1 L303.0,300.1 L304.4,300.0 L305.8,300.0 L307.2,299.9 L308.6,299.8 L310.0,299.7 L311.4,299.6 L312.7,299.4 L314.1,299.2 L315.5,299.0 L316.9,298.8 L318.3,298.5 L319.7,298.2 L321.1,297.9 L322.5,297.5 L323.8,297.1 L325.2,296.7 L326.6,296.2 L328.0,295.7 L329.4,295.1 L330.8,294.5 L332.2,293.8 L333.6,293.1 L335.0,292.4 L336.3,291.6 L337.7,290.8 L339.1,289.9 L340.5,289.0 L341.9,288.0 L343.3,287.0 L344.7,285.9 L346.1,284.8 L347.4,283.7 L348.8,282.4 L350.2,281.2 L351.6,279.8 L353.0,278.5 L354.4,277.0 L355.8,275.5 L357.2,274.0 L358.5,272.4 L359.9,270.8 L361.3,269.2 L362.7,267.6 L364.1,265.9 L365.5,264.3 L366.9,262.7 L368.3,261.0 L369.7,259.4 L371.0,257.9 L372.4,256.3 L373.8,254.8 L375.2,253.4 L376.6,252.0 L378.0,250.6 L379.4,249.4 L380.8,248.2 L382.1,247.1 L383.5,246.1 L384.9,245.2 L386.3,244.5 L387.7,243.8 L389.1,243.2 L390.5,242.8 L391.9,242.5 L393.2,242.3 L394.6,242.2 L396.0,242.2 L397.4,242.3 L398.8,242.4 L400.2,242.6 L401.6,242.8 L403.0,243.1 L404.4,243.4 L405.7,243.8 L407.1,244.1 L408.5,244.5 L409.9,244.9 L411.3,245.2 L412.7,245.5 L414.1,245.8 L415.5,246.1 L416.8,246.3 L418.2,246.4 L419.6,246.5 L421.0,246.5 L422.4,246.4 L423.8,246.2 L425.2,246.0 L426.6,245.6 L427.9,245.1 L429.3,244.6 L430.7,243.9 L432.1,243.2 L433.5,242.5 L434.9,241.6 L436.3,240.7 L437.7,239.7 L439.0,238.7 L440.4,237.7 L441.8,236.6 L443.2,235.4 L444.6,234.2 L446.0,233.0 L447.4,231.8 L448.8,230.6 L450.2,229.3 L451.5,228.0 L452.9,226.8 L454.3,225.5 L455.7,224.3 L457.1,223.0 L458.5,221.8 L459.9,220.6 L461.3,219.4 L462.6,218.2 L464.0,217.1 L465.4,215.9 L466.8,214.8 L468.2,213.7 L469.6,212.6 L471.0,211.5 L472.4,210.4 L473.7,209.4 L475.1,208.3 L476.5,207.3 L477.9,206.3 L479.3,205.3 L480.7,204.2 L482.1,203.2 L483.5,202.2 L484.9,201.2 L486.2,200.2 L487.6,199.2 L489.0,198.3 L490.4,197.3 L491.8,196.3 L493.2,195.3 L494.6,194.3 L496.0,193.3 L497.3,192.3 L498.7,191.3 L500.1,190.2 L501.5,189.2 L502.9,188.1 L504.3,187.1 L505.7,186.0 L507.1,184.8 L508.4,183.7 L509.8,182.5 L511.2,181.3 L512.6,180.1 L514.0,178.9 L515.4,177.6 L516.8,176.2 L518.2,174.9 L519.6,173.5 L520.9,172.0 L522.3,170.5 L523.7,168.9 L525.1,167.3 L526.5,165.7 L527.9,164.0 L529.3,162.2 L530.7,160.4 L532.0,158.5 L533.4,156.6 L534.8,154.6 L536.2,152.6 L537.6,150.5 L539.0,148.4 L540.4,146.2 L541.8,144.0 L543.1,141.8 L544.5,139.5 L545.9,137.2 L547.3,134.8 L548.7,132.4 L550.1,130.0 L551.5,127.5 L552.9,125.1 L554.3,122.5 L555.6,120.0 L557.0,117.4 L558.4,114.8 L559.8,112.2 L561.2,109.6 L562.6,106.9 L564.0,104.3 L565.4,101.6 L566.7,98.9 L568.1,96.2 L569.5,93.6 L570.9,90.9 L572.3,88.3 L573.7,85.7 L575.1,83.1 L576.5,80.6 L577.8,78.1 L579.2,75.6 L580.6,73.2 L582.0,70.9 L583.4,68.7 L584.8,66.5 L586.2,64.4 L587.6,62.4 L589.0,60.5 L590.3,58.7 L591.7,57.0 L593.1,55.4 L594.5,53.9 L595.9,52.6 L597.3,51.4 L598.7,50.3 L600.1,49.4 L601.4,48.6 L602.8,48.0 L604.2,47.4 L605.6,47.0 L607.0,46.7 L608.4,46.6 L609.8,46.5 L611.2,46.6 L612.5,46.8 L613.9,47.1 L615.3,47.6 L616.7,48.1 L618.1,48.7 L619.5,49.5 L620.9,50.3 L622.3,51.3 L623.7,52.3 L625.0,53.4 L626.4,54.7 L627.8,56.0 L629.2,57.4 L630.6,58.9 L632.0,60.4 L633.4,62.1 L634.8,63.8 L636.1,65.6 L637.5,67.5 L638.9,69.4 L640.3,71.3 L641.7,73.3 L643.1,75.3 L644.5,77.3 L645.9,79.4 L647.2,81.4 L648.6,83.5 L650.0,85.5 L651.4,87.5 L652.8,89.5 L654.2,91.5 L655.6,93.4 L657.0,95.3 L658.3,97.1 L659.7,98.8 L661.1,100.5 L662.5,102.1 L663.9,103.6 L665.3,105.1 L666.7,106.4 L668.1,107.6 L669.5,108.7 L670.8,109.7 L672.2,110.7 L673.6,111.5 L675.0,112.3 L676.4,113.1 L677.8,113.8 L679.2,114.4 L680.6,115.1 L681.9,115.7 L683.3,116.4 L684.7,117.0 L686.1,117.7 L687.5,118.4 L688.9,119.2 L690.3,119.9 L691.7,120.8 L693.0,121.7 L694.4,122.7 L695.8,123.8 L697.2,125.0 L698.6,126.3 L700.0,127.8 L701.4,129.3 L702.8,131.1 L704.2,132.9 L705.5,134.9 L706.9,137.0 L708.3,139.2 L709.7,141.5 L711.1,143.9 L712.5,146.4 L713.9,148.9 L715.3,151.6 L716.6,154.2 L718.0,156.9 L719.4,159.7 L720.8,162.4 L722.2,165.2 L723.6,168.0 L725.0,170.7 L726.4,173.5 L727.7,176.2 L729.1,178.9 L730.5,181.5 L731.9,184.1 L733.3,186.6 L734.7,189.1 L736.1,191.4 L737.5,193.7 L738.9,195.8 L740.2,197.9 L741.6,199.9 L743.0,201.8 L744.4,203.6 L745.8,205.4 L747.2,207.0 L748.6,208.6 L750.0,210.2 L751.3,211.7 L752.7,213.1 L754.1,214.5 L755.5,215.9 L756.9,217.2 L758.3,218.4 L759.7,219.7 L761.1,220.9 L762.4,222.1 L763.8,223.3 L765.2,224.4 L766.6,225.6 L768.0,226.7" fill="none" stroke="#000080" stroke-width="1"/>
<polygon points="65.70,302.70 80.40,294.50 80.40,310.90" fill="#000080"/>
<polygon points="100.50,256.02 115.20,247.82 115.20,264.22" fill="#000080"/>
<polygon points="135.30,153.43 150.00,145.23 150.00,161.63" fill="#000080"/>
<polygon points="170.10,142.39 184.80,134.19 184.80,150.59" fill="#000080"/>
<polygon points="204.90,223.99 219.60,215.79 219.60,232.19" fill="#000080"/>
<polygon points="239.70,293.30 254.40,285.10 254.40,301.50" fill="#000080"/>
<polygon points="274.50,300.74 289.20,292.54 289.20,308.94" fill="#000080"/>
<polygon points="309.30,298.39 324.00,290.19 324.00,306.59" fill="#000080"/>
<polygon points="344.10,277.63 358.80,269.43 358.80,285.83" fill="#000080"/>
<polygon points="378.90,243.41 393.60,235.21 393.60,251.61" fill="#000080"/>
<polygon points="413.70,246.31 428.40,238.11 428.40,254.51" fill="#000080"/>
<polygon points="448.50,222.03 463.20,213.83 463.20,230.23" fill="#000080"/>
<polygon points="483.30,195.40 498.00,187.20 498.00,203.60" fill="#000080"/>
<polygon points="518.10,164.08 532.80,155.88 532.80,172.28" fill="#000080"/>
<polygon points="552.90,106.91 567.60,98.71 567.60,115.11" fill="#000080"/>
<polygon points="587.70,51.31 602.40,43.11 602.40,59.51" fill="#000080"/>
<polygon points="622.50,60.70 637.20,52.50 637.20,68.90" fill="#000080"/>
<polygon points="657.30,106.67 672.00,98.47 672.00,114.87" fill="#000080"/>
<polygon points="692.10,129.86 706.80,121.66 706.80,138.06" fill="#000080"/>
<polygon points="726.90,192.27 741.60,184.07 741.60,200.47" fill="#000080"/>
<polygon points="758.30,226.73 773.00,218.53 773.00,234.93" fill="#000080"/>
</g>
</g>
<path d="M75.2,8.4 V557.6 H769.0" fill="none" stroke="#000" stroke-width="2.2" stroke-linejoin="miter"/>
<line x1="75.2" y1="518.44" x2="81.2" y2="518.44" stroke="#000" stroke-width="2"/>
<line x1="75.2" y1="479.29" x2="87.0" y2="479.29" stroke="#000" stroke-width="2"/>
<line x1="75.2" y1="440.13" x2="81.2" y2="440.13" stroke="#000" stroke-width="2"/>
<line x1="75.2" y1="400.97" x2="87.0" y2="400.97" stroke="#000" stroke-width="2"/>
<line x1="75.2" y1="361.81" x2="81.2" y2="361.81" stroke="#000" stroke-width="2"/>
<line x1="75.2" y1="322.66" x2="87.0" y2="322.66" stroke="#000" stroke-width="2"/>
<line x1="75.2" y1="283.50" x2="81.2" y2="283.50" stroke="#000" stroke-width="2"/>
<line x1="75.2" y1="244.34" x2="87.0" y2="244.34" stroke="#000" stroke-width="2"/>
<line x1="75.2" y1="205.19" x2="81.2" y2="205.19" stroke="#000" stroke-width="2"/>
<line x1="75.2" y1="166.03" x2="87.0" y2="166.03" stroke="#000" stroke-width="2"/>
<line x1="75.2" y1="126.87" x2="81.2" y2="126.87" stroke="#000" stroke-width="2"/>
<line x1="75.2" y1="87.71" x2="87.0" y2="87.71" stroke="#000" stroke-width="2"/>
<line x1="75.2" y1="48.56" x2="81.2" y2="48.56" stroke="#000" stroke-width="2"/>
<line x1="75.2" y1="9.40" x2="87.0" y2="9.40" stroke="#000" stroke-width="2"/>
<line x1="115.95" y1="557.6" x2="115.95" y2="546.0" stroke="#000" stroke-width="2"/>
<line x1="156.71" y1="557.6" x2="156.71" y2="551.8000000000001" stroke="#000" stroke-width="2"/>
<line x1="197.46" y1="557.6" x2="197.46" y2="546.0" stroke="#000" stroke-width="2"/>
<line x1="238.21" y1="557.6" x2="238.21" y2="551.8000000000001" stroke="#000" stroke-width="2"/>
<line x1="278.96" y1="557.6" x2="278.96" y2="546.0" stroke="#000" stroke-width="2"/>
<line x1="319.72" y1="557.6" x2="319.72" y2="551.8000000000001" stroke="#000" stroke-width="2"/>
<line x1="360.47" y1="557.6" x2="360.47" y2="546.0" stroke="#000" stroke-width="2"/>
<line x1="401.22" y1="557.6" x2="401.22" y2="551.8000000000001" stroke="#000" stroke-width="2"/>
<line x1="441.98" y1="557.6" x2="441.98" y2="546.0" stroke="#000" stroke-width="2"/>
<line x1="482.73" y1="557.6" x2="482.73" y2="551.8000000000001" stroke="#000" stroke-width="2"/>
<line x1="523.48" y1="557.6" x2="523.48" y2="546.0" stroke="#000" stroke-width="2"/>
<line x1="564.24" y1="557.6" x2="564.24" y2="551.8000000000001" stroke="#000" stroke-width="2"/>
<line x1="604.99" y1="557.6" x2="604.99" y2="546.0" stroke="#000" stroke-width="2"/>
<line x1="645.74" y1="557.6" x2="645.74" y2="551.8000000000001" stroke="#000" stroke-width="2"/>
<line x1="686.49" y1="557.6" x2="686.49" y2="546.0" stroke="#000" stroke-width="2"/>
<line x1="727.25" y1="557.6" x2="727.25" y2="551.8000000000001" stroke="#000" stroke-width="2"/>
<line x1="768.00" y1="557.6" x2="768.00" y2="546.0" stroke="#000" stroke-width="2"/>
<text transform="translate(63.30,564.90) scale(1,1.02)" text-anchor="end" font-size="23.4">10</text>
<text transform="translate(63.30,486.59) scale(1,1.02)" text-anchor="end" font-size="23.4">20</text>
<text transform="translate(63.30,408.27) scale(1,1.02)" text-anchor="end" font-size="23.4">30</text>
<text transform="translate(63.30,329.96) scale(1,1.02)" text-anchor="end" font-size="23.4">40</text>
<text transform="translate(63.30,251.64) scale(1,1.02)" text-anchor="end" font-size="23.4">50</text>
<text transform="translate(63.30,173.33) scale(1,1.02)" text-anchor="end" font-size="23.4">60</text>
<text transform="translate(63.30,95.01) scale(1,1.02)" text-anchor="end" font-size="23.4">70</text>
<text transform="translate(63.30,16.70) scale(1,1.02)" text-anchor="end" font-size="23.4">80</text>
<text transform="translate(115.75,588.20) scale(1,1.02)" text-anchor="middle" font-size="23.4">2000</text>
<text transform="translate(197.26,588.20) scale(1,1.02)" text-anchor="middle" font-size="23.4">4000</text>
<text transform="translate(278.76,588.20) scale(1,1.02)" text-anchor="middle" font-size="23.4">6000</text>
<text transform="translate(360.27,588.20) scale(1,1.02)" text-anchor="middle" font-size="23.4">8000</text>
<text transform="translate(441.78,588.20) scale(1,1.02)" text-anchor="middle" font-size="23.4">10000</text>
<text transform="translate(523.28,588.20) scale(1,1.02)" text-anchor="middle" font-size="23.4">12000</text>
<text transform="translate(604.79,588.20) scale(1,1.02)" text-anchor="middle" font-size="23.4">14000</text>
<text transform="translate(686.29,588.20) scale(1,1.02)" text-anchor="middle" font-size="23.4">16000</text>
<text transform="translate(767.80,588.20) scale(1,1.02)" text-anchor="middle" font-size="23.4">18000</text>
<text transform="translate(421.80,631.80) scale(1,1.045)" text-anchor="middle" font-size="29.2">Frequency /MHz</text>
<text transform="translate(20.70,284.00) rotate(-90) scale(1,1.045)" text-anchor="middle" font-size="28.7">Shielding Effectiveness Value/dB</text>
<rect x="93.7" y="373.2" width="98.4" height="175.3" fill="#fff" stroke="#404040" stroke-width="1.2"/>
<line x1="96.2" y1="389.60" x2="149.6" y2="389.60" stroke="#000000" stroke-width="0.85"/>
<rect x="117.00" y="383.60" width="12.00" height="12.00" fill="#000000"/>
<text transform="translate(155.60,397.70) scale(1,1.045)" text-anchor="start" font-size="23.4">AB</text>
<line x1="96.2" y1="418.34" x2="149.6" y2="418.34" stroke="#ff0000" stroke-width="0.85"/>
<circle cx="123.00" cy="418.34" r="6.7" fill="#ff0000"/>
<text transform="translate(155.60,426.44) scale(1,1.045)" text-anchor="start" font-size="23.4">AC</text>
<line x1="96.2" y1="447.08" x2="149.6" y2="447.08" stroke="#0000ff" stroke-width="0.85"/>
<polygon points="123.00,437.48 131.50,451.98 114.50,451.98" fill="#0000ff"/>
<text transform="translate(155.60,455.18) scale(1,1.045)" text-anchor="start" font-size="23.4">BC</text>
<line x1="96.2" y1="475.82" x2="149.6" y2="475.82" stroke="#ff00ff" stroke-width="0.85"/>
<polygon points="114.50,470.92 131.50,470.92 123.00,485.42" fill="#ff00ff"/>
<text transform="translate(155.60,483.92) scale(1,1.045)" text-anchor="start" font-size="23.4">DF</text>
<line x1="96.2" y1="504.56" x2="149.6" y2="504.56" stroke="#008000" stroke-width="0.85"/>
<polygon points="123.00,495.86 131.70,504.56 123.00,513.26 114.30,504.56" fill="#008000"/>
<text transform="translate(155.60,512.66) scale(1,1.045)" text-anchor="start" font-size="23.4">DE</text>
<line x1="96.2" y1="533.30" x2="149.6" y2="533.30" stroke="#000080" stroke-width="0.85"/>
<polygon points="113.30,533.30 128.00,525.10 128.00,541.50" fill="#000080"/>
<text transform="translate(155.60,541.40) scale(1,1.045)" text-anchor="start" font-size="23.4">EF</text>
</svg>
</body></html>
